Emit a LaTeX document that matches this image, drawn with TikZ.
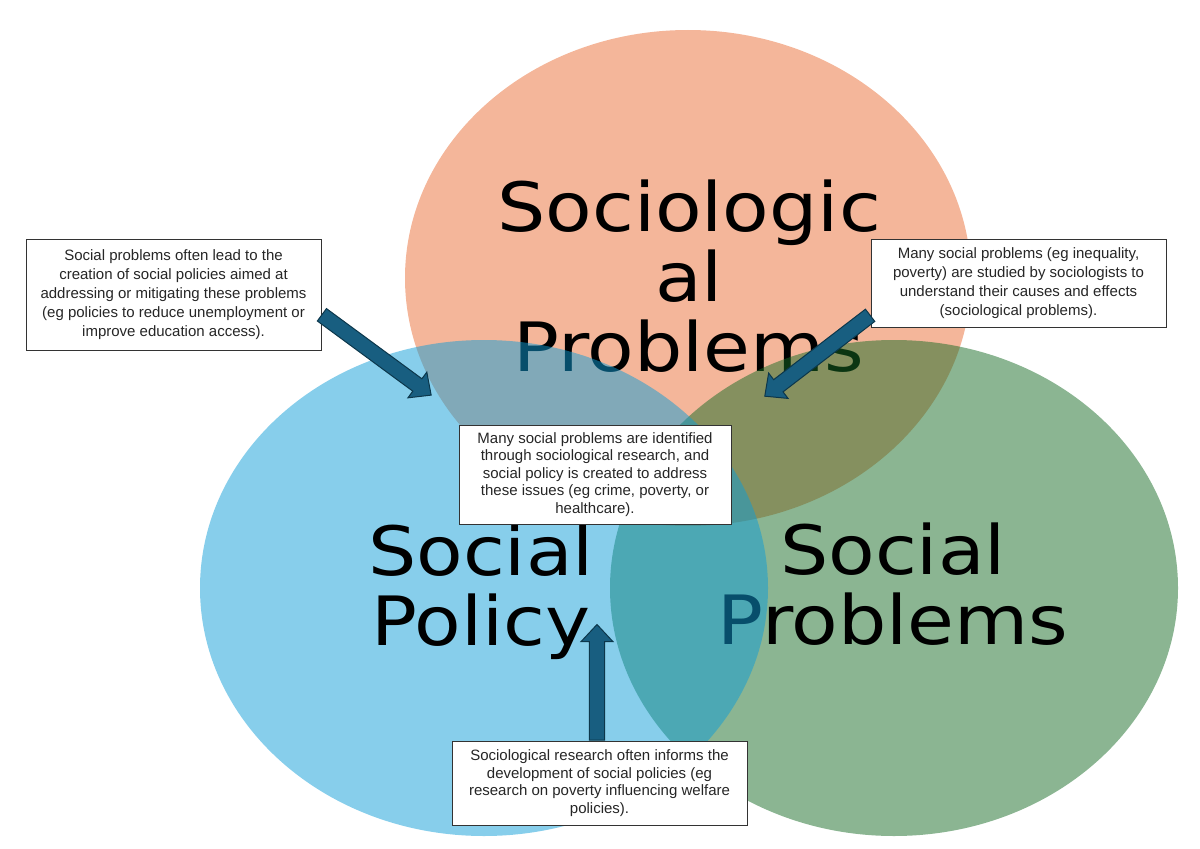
\documentclass[tikz,border=0pt]{standalone}
\usepackage{fontspec}
\setmainfont{Liberation Sans}
\newfontfamily\bigfont[FakeStretch=1.12]{DejaVu Sans}
\usetikzlibrary{calc,shapes.arrows}

\definecolor{orangeacc}{RGB}{233,109,53}
\definecolor{blueacc}{RGB}{15,157,215}
\definecolor{greenacc}{RGB}{23,107,37}
\definecolor{arrowfill}{RGB}{24,94,128}
\definecolor{arrowline}{RGB}{12,55,75}

\begin{document}
\begin{tikzpicture}[x=0.75pt,y=-0.75pt,
  venn/.style={fill opacity=0.5},
  bigtxt/.style={font=\bigfont\fontsize{51pt}{52.5pt}\selectfont, align=center, inner sep=0pt},
  note/.style={draw=black!80, line width=0.75pt, fill=white, align=center, inner sep=0pt,
    text=black!85, font=\fontsize{11.25pt}{14.25pt}\selectfont},
  tight/.style={font=\fontsize{11.25pt}{13.1pt}\selectfont},
  blockarrow/.style={single arrow, draw=arrowline, fill=arrowfill, line width=0.75pt,
    inner sep=5.4pt, single arrow head extend=6.2pt, single arrow tip angle=86}]
  \useasboundingbox (0,0) rectangle (1200,849);

  % Circles (orange, then green, then blue on top)
  \fill[orangeacc, venn] (688,278) ellipse [x radius=283, y radius=248];
  \node[bigtxt] (sociol) at (689,276) {Sociologic\\al\\Problems};

  \fill[greenacc, venn] (894,588) ellipse [x radius=284, y radius=248];
  \node[bigtxt] (socprob) at (893,584) {Social\\Problems};

  \fill[blueacc, venn] (484,588) ellipse [x radius=284, y radius=248];
  \node[bigtxt] (socpol) at (481,592) {Social\\Policy};

  % Text boxes
  \node[note, minimum width=221.25pt, minimum height=83.25pt] (box1) at (173.5,294.5)
    {Social problems often lead to the\\creation of social policies aimed at\\addressing or mitigating these problems\\(eg policies to reduce unemployment or\\improve education access).};
  \node[note, minimum width=221.25pt, minimum height=66pt] (box2) at (1018.5,283)
    {Many social problems (eg inequality,\\poverty) are studied by sociologists to\\understand their causes and effects\\(sociological problems).};
  \node[note, tight, minimum width=204pt, minimum height=74.25pt] (box3) at (595,474.5)
    {Many social problems are identified\\through sociological research, and\\social policy is created to address\\these issues (eg crime, poverty, or\\healthcare).};
  \node[note, tight, minimum width=221.25pt, minimum height=63pt] (box4) at (599.5,783)
    {Sociological research often informs the\\development of social policies (eg\\research on poverty influencing welfare\\policies).};

  % Arrows
  \coordinate (tailA) at ([yshift=-15pt]box1.east);
  \coordinate (tipA) at (431,395);
  \coordinate (tailB) at ([yshift=-24pt]box2.west);
  \coordinate (tipB) at (765,396);
  \coordinate (tailC) at ([xshift=-1.9pt]box4.north);
  \coordinate (tipC) at (597,625);
  \foreach \s/\t in {tailA/tipA, tailB/tipB, tailC/tipC}
    \path let \p1=($(\t)-(\s)$), \n1={veclen(\x1,\y1)}, \n2={atan2(\y1,\x1)} in
      node[blockarrow, minimum height=\n1, rotate=\n2, anchor=tail] at (\s) {};
\end{tikzpicture}
\end{document}
